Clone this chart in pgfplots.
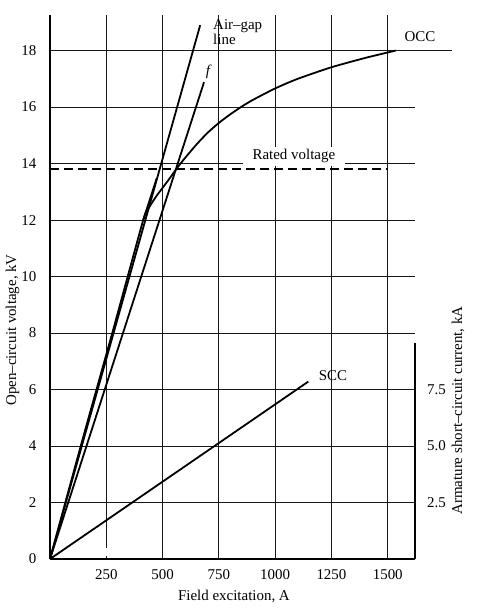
\documentclass[border=0pt]{standalone}
\usepackage{fontspec}
\setmainfont{Liberation Serif}
\usepackage{pgfplots}
\pgfplotsset{compat=1.18}
\begin{document}
\fontsize{15}{17}\selectfont
\begin{tikzpicture}
\path[use as bounding box] (-50bp,-50bp) rectangle (433bp,559bp);
\begin{axis}[
 scale only axis, width=365bp, height=544bp,
 xmin=0, xmax=1621, ymin=0, ymax=19.26,
 axis x line=bottom, axis y line=left,
 axis line style={-, line width=1.8bp},
 xtick={250,500,...,1500}, ytick={0,2,...,18},
 grid=major, major grid style={black!90, line width=1bp},
 major tick length=0,
 /pgf/number format/assume math mode=true,
 /pgf/number format/1000 sep={},
 tick label style={font=\fontsize{15}{17}\selectfont},
 xticklabel style={yshift=-5.5bp},
 yticklabel style={xshift=-8.5bp},
 clip=false,
]
% extension of the 18 kV grid line and cut of the 250 A line
\draw[black!90, line width=1bp] (axis cs:1621,18) -- (axis cs:1785,18);
\draw[white, line width=2.5bp] (axis cs:250,0.1) -- (axis cs:250,0.38);
% Air-gap line
\addplot[black, line width=1.8bp] coordinates {(0,0) (667,18.9)};
% line f
\addplot[black, line width=1.8bp] coordinates {(0,0) (684,16.88)};
% OCC
\addplot[black, line width=1.8bp, smooth, tension=0.4] coordinates {
 (0,0) (140,4.1) (280,8.1) (414,12.0) (440,12.44) (470,12.82) (500,13.14) (530,13.46)
 (565,13.85) (600,14.2) (650,14.67) (700,15.09) (750,15.44) (800,15.74) (850,16.01)
 (900,16.25) (1000,16.66) (1100,17.0) (1250,17.41) (1400,17.74) (1535,18.0)};
% short segment
\addplot[black, line width=1.8bp] coordinates {(414,12.0) (474,13.48)};
% rated voltage
\addplot[black, line width=1.8bp, dash pattern=on 9bp off 5bp] coordinates {(0,13.8) (1500,13.8)};
\fill[white] (axis cs:857,13.91) rectangle (axis cs:1310,14.58);
\node at (axis cs:1083,14.28) {Rated voltage};
\node[anchor=west, align=left, inner sep=0pt, font=\fontsize{15}{14.5}\selectfont] at (axis cs:724,18.66) {Air--gap\\line};
\node at (axis cs:701,17.24) {\itshape f};
\node at (axis cs:1643,18.51) {OCC};
\node at (axis cs:1257,6.48) {SCC};
\node[rotate=90] at (rel axis cs:-0.1027,0.421) {Open--circuit voltage, kV};
\node at (rel axis cs:0.504,-0.0693) {Field excitation, A};
\node[rotate=90] at (rel axis cs:1.118,0.273) {Armature short--circuit current, kA};
\end{axis}
\begin{axis}[
 scale only axis, width=365bp, height=544bp,
 xmin=0, xmax=1621, ymin=0, ymax=24.075,
 axis x line=none, axis y line*=right,
 y axis line style={draw=none},
 ytick={2.5,5,7.5}, yticklabels={2.5,5.0,7.5},
 major tick length=0,
 yticklabel style={xshift=7bp, font=\fontsize{15}{17}\selectfont},
 clip=false,
]
\addplot[black, line width=1.8bp] coordinates {(0,0) (1147,7.85)};
\draw[line width=1.8bp] (axis cs:1621,0) -- (axis cs:1621,9.56);
\end{axis}
\end{tikzpicture}
\end{document}
